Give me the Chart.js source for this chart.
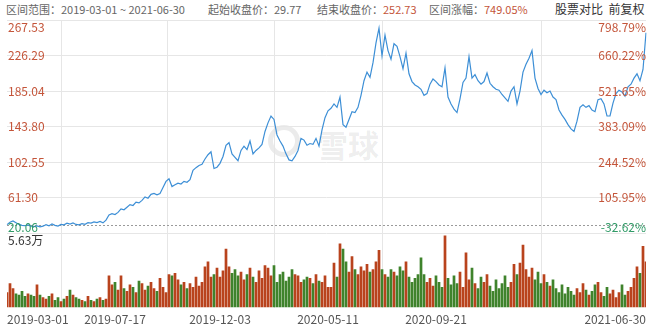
<!DOCTYPE html>
<html>
<head>
<meta charset="utf-8">
<script src="https://cdn.jsdelivr.net/npm/chart.js@4"></script>
<style>
  html, body { margin: 0; padding: 0; background: #fff; }
  #wrap { position: relative; width: 651px; height: 332px; font-family: 'Noto Sans CJK SC', sans-serif; }
  #head span { position: absolute; top: 1px; font-size: 11px; line-height: 16px; color: #666; white-space: nowrap; }
  #head .red { position: static; color: #c4553a; }
  #head .dark { color: #333; font-size: 12px; }
  #mark { position: absolute; left: 317px; top: 121px; font-size: 31px; font-weight: bold; color: rgba(0, 0, 0, 0.08); }
  #logo { position: absolute; left: 268px; top: 125px; width: 22px; height: 22px; border: 5px solid rgba(0, 0, 0, 0.08); border-radius: 50%; }
  canvas { position: absolute; left: 0; top: 0; }
</style>
</head>
<body>
<div id="wrap">
  <div id="head">
    <span style="left:6px">区间范围：2019-03-01 ~ 2021-06-30</span>
    <span style="left:208px">起始收盘价：29.77</span>
    <span style="left:317px">结束收盘价：<span class="red">252.73</span></span>
    <span style="left:429px">区间涨幅：<span class="red">749.05%</span></span>
    <span class="dark" style="left:555px">股票对比&nbsp;&nbsp;前复权</span>
  </div>
  <div id="logo"></div>
  <div id="mark">雪球</div>
  <canvas id="chart" width="651" height="332"></canvas>
</div>
<script>
// closing price, sampled roughly every 2-3 trading days
const prices = [
  29.77, 32.5, 34, 32, 30, 29, 28.5, 29.5, 28, 27.5,
  28.3, 27.2, 28, 29.8, 28.5, 30.5, 29, 28.2, 30, 29.5,
  31.5, 30.5, 31.8, 30, 29.5, 31, 30.2, 32, 31.5, 33,
  32.2, 33.5, 31.8, 35, 41, 42.5, 41.5, 44, 48, 47,
  50, 53, 52, 56, 55, 58, 62, 60.5, 65, 66,
  64.5, 66, 73, 80, 83, 74, 76, 78, 77, 80,
  79, 82, 93, 96, 98.5, 100, 106, 111, 114.5, 95,
  96.5, 101, 109, 122, 125, 112, 108, 104, 116, 121,
  117, 127, 112, 116, 119, 123, 138, 148, 156, 152,
  134, 127, 121, 112, 105, 104, 109, 116, 130, 128,
  122, 124, 123, 130, 121, 140, 154, 162, 165, 170,
  166, 178, 146, 143, 152, 161, 160, 166, 180, 197,
  207, 201, 218, 241, 258, 226, 250, 232, 222, 240,
  237, 225, 211, 229, 205, 196, 192, 190, 187, 180,
  182, 193, 199, 196, 192, 190, 212, 178, 170, 164,
  160, 176, 195, 200, 225, 200, 204, 197, 193, 196,
  206, 194, 190, 187, 186, 181, 177, 173, 185, 190,
  170, 185, 207, 216, 223, 232, 200, 188, 181, 186,
  183, 185, 178, 175, 163, 157, 152, 146, 141, 138,
  150, 166, 169, 166, 168, 163, 161, 175, 176, 170,
  156, 156, 171, 182, 186, 184, 179, 190, 193, 200,
  205, 197, 210, 252.73
];

// volume in 万 shares
const volumes = [
  1.2, 1.9, 1.5, 1.1, 1.0, 1.3, 0.9, 1.1, 1.0, 0.9,
  1.8, 1.0, 0.8, 0.7, 0.9, 1.1, 0.6, 0.8, 0.5, 0.7,
  0.9, 1.4, 1.0, 0.8, 0.7, 0.6, 0.5, 0.9, 0.6, 0.5,
  0.7, 0.8, 0.6, 0.7, 2.5, 1.8, 2.0, 1.4, 2.5, 1.5,
  1.3, 1.8, 1.6, 1.2, 2.1, 1.9, 1.4, 1.7, 2.0, 1.5,
  1.3, 2.3, 1.6, 1.2, 2.6, 2.5, 2.7, 2.2, 1.8, 2.0,
  1.5, 1.9, 1.6, 2.4, 1.7, 2.0, 3.2, 3.6, 2.4, 2.6,
  3.1, 2.4, 2.9, 4.6, 3.2, 2.7, 3.0, 2.5, 2.8, 2.2,
  2.6, 3.1, 2.4, 2.0, 2.9, 2.3, 3.3, 3.1, 2.5, 3.3,
  2.0, 2.6, 2.8, 2.1, 2.4, 3.0, 2.6, 2.5, 2.0, 2.2,
  2.4, 2.3, 1.9, 2.6, 2.1, 2.0, 2.5, 1.6, 1.6, 3.5,
  2.4, 5.0, 4.6, 3.6, 2.8, 4.0, 3.0, 2.6, 3.2, 2.9,
  3.4, 2.8, 3.0, 3.6, 4.5, 3.0, 2.6, 2.4, 3.0, 2.8,
  2.5, 3.2, 2.9, 3.6, 2.4, 2.0, 2.3, 2.6, 3.9, 2.6,
  2.0, 2.3, 1.7, 2.5, 2.0, 1.6, 5.63, 2.3, 1.8, 2.5,
  1.9, 2.8, 1.6, 4.3, 2.2, 3.1, 1.9, 1.5, 2.4, 2.0,
  2.6, 1.7, 1.3, 2.2, 1.5, 1.9, 2.5, 1.6, 2.0, 3.4,
  2.6, 3.5, 4.9, 3.0, 2.4, 3.1, 2.2, 2.8, 1.9, 2.6,
  2.0, 1.7, 2.2, 1.5, 1.2, 1.8, 1.1, 1.6, 1.3, 1.0,
  1.5, 1.2, 1.9, 1.4, 1.0, 1.3, 1.8, 2.0, 1.2, 0.9,
  1.6, 1.1, 1.4, 0.8, 1.2, 1.8, 1.0, 1.3, 1.6, 2.3,
  3.2, 2.7, 4.8, 3.6
];

const startClose = 29.77;
const priceTicks = [20.06, 61.30, 102.55, 143.80, 185.04, 226.29, 267.53];
const pctTicks = ['-32.62%', '105.95%', '244.52%', '383.09%', '521.65%', '660.22%', '798.79%'];
const volMaxLabel = '5.63万';
const dateLabels = ['2019-03-01', '2019-07-17', '2019-12-03', '2020-05-11', '2020-09-21', '2021-06-30'];
const dateTickIdx = [0, 36, 71, 107, 143, 213];

const RED = '#c4553a';
const GREEN = '#2f9a66';
const FONT = '"Noto Sans CJK SC", sans-serif';

// up day red, down day green
const barColors = volumes.map((v, i) =>
  (i === 0 || prices[i] >= prices[i - 1]) ? '#b9431d' : '#3f832c');

const axisText = {
  id: 'axisText',
  beforeDatasetsDraw(chart) {
    const ctx = chart.ctx, y = chart.scales.y;
    const { left, right } = chart.chartArea;
    const sy = Math.round(y.getPixelForValue(startClose)) + 0.5;
    ctx.save();
    ctx.setLineDash([2, 2]);
    ctx.strokeStyle = '#9a9a9a';
    ctx.lineWidth = 1;
    ctx.beginPath();
    ctx.moveTo(left, sy);
    ctx.lineTo(right, sy);
    ctx.stroke();
    ctx.restore();
  },
  afterDraw(chart) {
    const ctx = chart.ctx, y = chart.scales.y, v = chart.scales.yv;
    const { left, right } = chart.chartArea;
    ctx.save();
    ctx.font = '12px ' + FONT;
    ctx.textBaseline = 'middle';
    priceTicks.forEach((p, i) => {
      let py = y.getPixelForValue(p);
      py = Math.min(Math.max(py, y.top + 7), y.bottom - 6);
      ctx.fillStyle = p < startClose ? GREEN : RED;
      ctx.textAlign = 'left';
      ctx.fillText(p.toFixed(2), left + 1, py);
      ctx.textAlign = 'right';
      ctx.fillText(pctTicks[i], right, py);
    });
    ctx.fillStyle = '#333';
    ctx.textAlign = 'left';
    ctx.fillText(volMaxLabel, left + 1, v.top + 7);
    ctx.restore();
  }
};

new Chart(document.getElementById('chart'), {
  data: {
    labels: prices.map((p, i) => i),
    datasets: [
      {
        type: 'line',
        data: prices,
        yAxisID: 'y',
        borderColor: '#3d8fd6',
        borderWidth: 1.2,
        pointRadius: 0,
        tension: 0
      },
      {
        type: 'bar',
        data: volumes,
        yAxisID: 'yv',
        backgroundColor: barColors,
        barPercentage: 1,
        categoryPercentage: 0.9
      }
    ]
  },
  options: {
    responsive: false,
    animation: false,
    layout: { padding: { left: 7, right: 3, top: 20, bottom: 0 } },
    plugins: { legend: { display: false }, tooltip: { enabled: false } },
    scales: {
      x: {
        type: 'category',
        offset: false,
        grid: { color: '#e6e6e6', drawTicks: false },
        border: { display: false },
        afterBuildTicks: (axis) => { axis.ticks = dateTickIdx.map(v => ({ value: v })); },
        ticks: {
          autoSkip: false,
          maxRotation: 0,
          align: 'inner',
          padding: 5,
          color: '#555',
          font: { size: 12, family: FONT },
          callback: (value) => dateLabels[dateTickIdx.indexOf(value)]
        }
      },
      // volume listed first: the first scale of a stack sits at the bottom
      yv: {
        stack: 'main',
        stackWeight: 76,
        min: 0,
        max: 5.82,
        grid: { display: false, drawTicks: false },
        border: { display: false },
        ticks: { display: false }
      },
      y: {
        stack: 'main',
        stackWeight: 217,
        min: 20.06,
        max: 267.53,
        afterBuildTicks: (axis) => { axis.ticks = priceTicks.map(v => ({ value: v })); },
        grid: { color: '#e6e6e6', drawTicks: false },
        border: { display: false },
        ticks: { display: false }
      }
    }
  },
  plugins: [axisText]
});
</script>
</body>
</html>
